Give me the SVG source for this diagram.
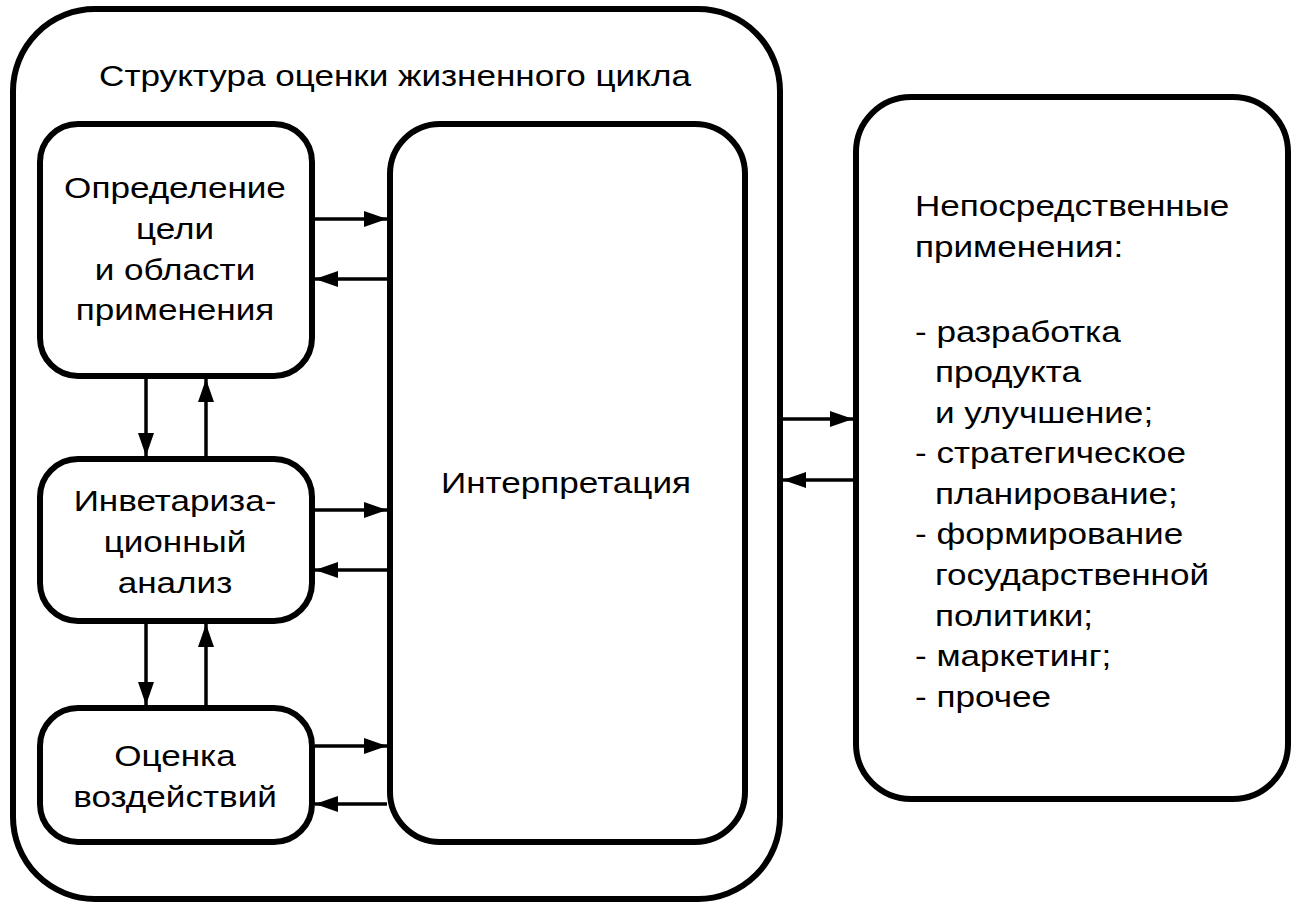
<svg xmlns="http://www.w3.org/2000/svg" width="1299" height="907" viewBox="0 0 1299 907">
<style>
.box{fill:#fff;stroke:#000;stroke-width:6}
.t{font-family:"Liberation Sans",Arial,sans-serif;font-size:30px;fill:#000}
.c{text-anchor:middle}
.ln{stroke:#000;stroke-width:3.5;fill:none}
</style>
<defs>
<marker id="ah" viewBox="0 0 23 16" refX="23" refY="8" markerWidth="23" markerHeight="16" markerUnits="userSpaceOnUse" orient="auto">
<path d="M0,0 L23,8 L0,16 Z" fill="#000"/>
</marker>
</defs>
<rect width="1299" height="907" fill="#fff"/>
<g id="outer">
<rect class="box" x="13" y="9" width="767" height="890" rx="82" ry="82"/>
<g transform="translate(395,0) scale(1.17,1)"><text class="t c" x="0" y="86">Структура оценки жизненного цикла</text></g>
</g>
<g id="goal">
<rect class="box" x="40" y="124" width="272" height="252" rx="38" ry="38"/>
<g transform="translate(175,0) scale(1.17,1)">
<text class="t c" x="0" y="198">Определение</text>
<text class="t c" x="0" y="239">цели</text>
<text class="t c" x="0" y="280">и области</text>
<text class="t c" x="0" y="320">применения</text>
</g>
</g>
<g id="inventory">
<rect class="box" x="40" y="459" width="272" height="162" rx="38" ry="38"/>
<g transform="translate(175,0) scale(1.17,1)">
<text class="t c" x="0" y="511">Инветариза-</text>
<text class="t c" x="0" y="552">ционный</text>
<text class="t c" x="0" y="593">анализ</text>
</g>
</g>
<g id="impact">
<rect class="box" x="40" y="708" width="272" height="134" rx="38" ry="38"/>
<g transform="translate(175,0) scale(1.17,1)">
<text class="t c" x="0" y="766">Оценка</text>
<text class="t c" x="0" y="807">воздействий</text>
</g>
</g>
<g id="interp">
<rect class="box" x="390" y="124" width="355" height="718" rx="50" ry="50"/>
<g transform="translate(566,0) scale(1.17,1)"><text class="t c" x="0" y="493">Интерпретация</text></g>
</g>
<g id="apps">
<rect class="box" x="856" y="97" width="432" height="702" rx="55" ry="55"/>
<g transform="translate(915,0) scale(1.17,1)">
<text class="t" x="0" y="216">Непосредственные</text>
<text class="t" x="0" y="257">применения:</text>
<text class="t" x="0" y="342">- разработка</text>
<text class="t" x="17" y="382">продукта</text>
<text class="t" x="17" y="423">и улучшение;</text>
<text class="t" x="0" y="463">- стратегическое</text>
<text class="t" x="17" y="504">планирование;</text>
<text class="t" x="0" y="544">- формирование</text>
<text class="t" x="17" y="585">государственной</text>
<text class="t" x="17" y="626">политики;</text>
<text class="t" x="0" y="666">- маркетинг;</text>
<text class="t" x="0" y="707">- прочее</text>
</g>
</g>
<g id="connectors">
<line class="ln" x1="315" y1="219" x2="387" y2="219" marker-end="url(#ah)"/>
<line class="ln" x1="387" y1="279" x2="315" y2="279" marker-end="url(#ah)"/>
<line class="ln" x1="315" y1="510" x2="387" y2="510" marker-end="url(#ah)"/>
<line class="ln" x1="387" y1="570" x2="315" y2="570" marker-end="url(#ah)"/>
<line class="ln" x1="315" y1="746" x2="387" y2="746" marker-end="url(#ah)"/>
<line class="ln" x1="387" y1="804" x2="315" y2="804" marker-end="url(#ah)"/>
<line class="ln" x1="146" y1="379" x2="146" y2="456" marker-end="url(#ah)"/>
<line class="ln" x1="206" y1="456" x2="206" y2="379" marker-end="url(#ah)"/>
<line class="ln" x1="146" y1="624" x2="146" y2="705" marker-end="url(#ah)"/>
<line class="ln" x1="206" y1="705" x2="206" y2="624" marker-end="url(#ah)"/>
<line class="ln" x1="783" y1="419" x2="853" y2="419" marker-end="url(#ah)"/>
<line class="ln" x1="853" y1="480" x2="783" y2="480" marker-end="url(#ah)"/>
</g>
</svg>
